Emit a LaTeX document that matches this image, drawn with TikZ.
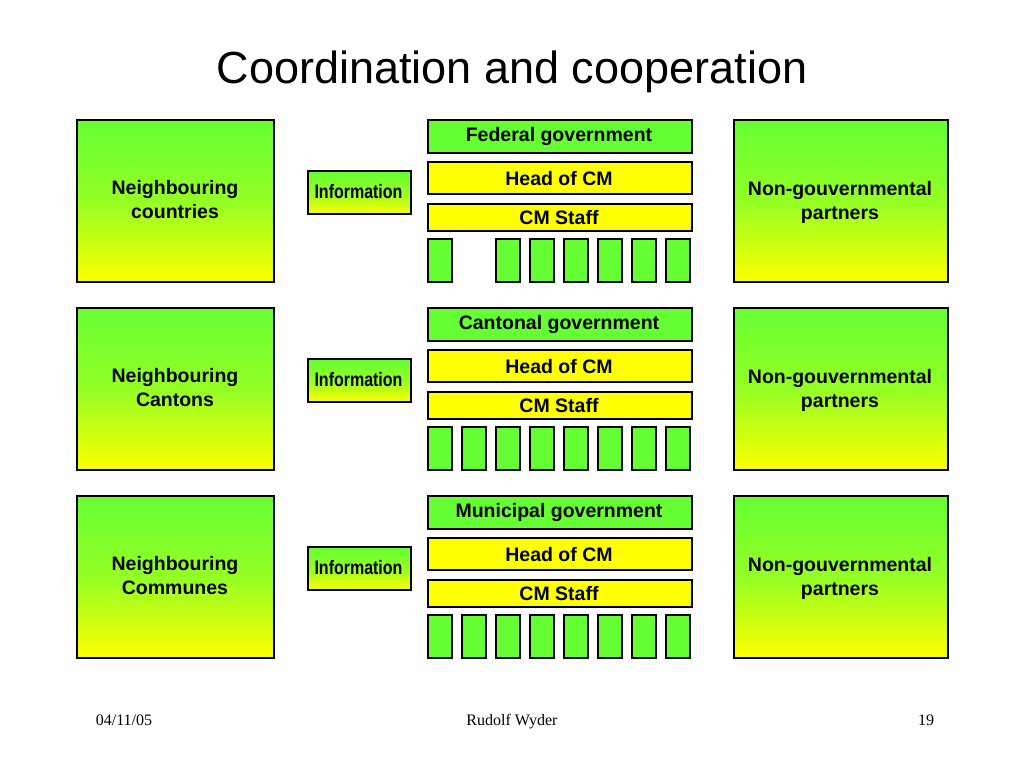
\documentclass[tikz,border=0pt]{standalone}
\usepackage{fontspec}
\setmainfont{Liberation Sans}
\newfontfamily\footfont{Liberation Serif}
\definecolor{boxgreen}{RGB}{102,255,51}
\definecolor{boxyellow}{RGB}{255,255,0}
\tikzset{
  box/.style={draw=black,line width=2.2pt,inner sep=0pt,anchor=north west},
  bigbox/.style={box,top color=boxgreen,bottom color=boxyellow,middle color=boxgreen!70!boxyellow},
  greenbox/.style={box,fill=boxgreen},
  yellowbox/.style={box,fill=boxyellow},
  lbl/.style={font=\fontsize{19.5}{24}\selectfont\bfseries,align=center},
  foot/.style={font=\footfont\fontsize{16}{19}\selectfont,anchor=base},
}
\begin{document}
\begin{tikzpicture}[x=1pt,y=-1pt]
  \useasboundingbox[fill=white] (0,0) rectangle (1024,768);
  \node (title) at (512,72) {\fontsize{45}{52}\selectfont Coordination and cooperation};

  \foreach \r/\lvl/\nb/\gap in {0/Federal/countries/1,1/Cantonal/Cantons/0,2/Municipal/Communes/0} {
    \begin{scope}[yshift=-188*\r]
      % left and right partners
      \node[bigbox,minimum width=197,minimum height=162] (nb\r) at (76,119) {};
      \node[lbl] at (175,200) {Neighbouring\\ \nb};
      \node[bigbox,minimum width=214,minimum height=162] (ngo\r) at (733,119) {};
      \node[lbl] at (840,202) {Non-gouvernmental\\partners};
      % information
      \node[bigbox,minimum width=103,minimum height=43] (info\r) at (307,170) {};
      \node[lbl,xscale=0.82] at (358.5,192) {Information};
      % government column
      \node[greenbox,minimum width=264,minimum height=33] (gov\r) at (427,119) {};
      \node[lbl] at (559,136) {\lvl\ government};
      \node[yellowbox,minimum width=264,minimum height=32] (head\r) at (427,161) {};
      \node[lbl] at (559,179) {Head of CM};
      \node[yellowbox,minimum width=264,minimum height=27] (staff\r) at (427,203) {};
      \node[lbl] at (559,218) {CM Staff};
      \foreach \i in {0,...,7} {
        \ifnum\gap=1 \ifnum\i=1 \else
          \node[greenbox,minimum width=24,minimum height=43] (unit\r\i) at (427+34*\i,238) {};
        \fi \else
          \node[greenbox,minimum width=24,minimum height=43] (unit\r\i) at (427+34*\i,238) {};
        \fi
      }
    \end{scope}
  }

  \node[foot] (date) at (124,725) {04/11/05};
  \node[foot] (author) at (512,725) {Rudolf Wyder};
  \node[foot] (page) at (926,725) {19};
\end{tikzpicture}
\end{document}
